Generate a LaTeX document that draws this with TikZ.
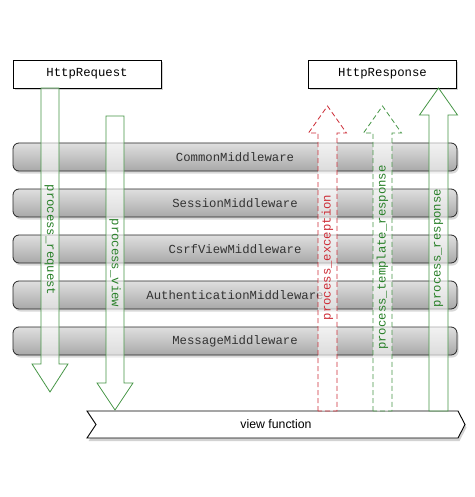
\documentclass[tikz,border=0pt]{standalone}
\usepackage{fontspec}
\setmainfont{Liberation Sans}
\newfontfamily\monofont{Liberation Mono}
\usetikzlibrary{shadows,calc}
\definecolor{agreen}{RGB}{70,150,70}
\definecolor{tgreen}{RGB}{40,128,40}
\definecolor{ared}{RGB}{205,45,55}
\newcommand\blockdown[4]{(#1-9,#2) -- (#1-9,#3) -- (#1-18,#3) -- (#1,#4) -- (#1+18,#3) -- (#1+9,#3) -- (#1+9,#2) -- cycle}
\newcommand\blockup[4]{(#1-9.5,#2) -- (#1-9.5,#3) -- (#1-19,#3) -- (#1,#4) -- (#1+19,#3) -- (#1+9.5,#3) -- (#1+9.5,#2) -- cycle}
\tikzset{
  mono/.style={font=\monofont\fontsize{12.3}{14}\selectfont},
  httpbox/.style={mono, draw=black, line width=0.9pt, fill=white, minimum width=148pt, minimum height=28pt, inner sep=0pt,
    drop shadow={opacity=0.35, shadow xshift=1.5pt, shadow yshift=-2.5pt}},
  mwbar/.style={mono, text=black!80, draw=black!85, line width=0.8pt, rounded corners=6pt, minimum width=444pt, minimum height=28pt, inner sep=0pt,
    top color=gray!25, middle color=gray!5, bottom color=gray!68,
    drop shadow={opacity=0.3, shadow xshift=1.5pt, shadow yshift=-2.5pt}},
  flowarrow/.style={line width=0.8pt, fill=white, fill opacity=0.6, draw opacity=1},
  solidgreen/.style={flowarrow, draw=agreen},
  dashgreen/.style={flowarrow, draw=agreen, dash pattern=on 5pt off 3pt},
  dashred/.style={flowarrow, draw=ared, dash pattern=on 5pt off 3pt},
  arrowlabel/.style={mono, inner sep=0pt},
}
\begin{document}
\begin{tikzpicture}[x=1pt,y=-1pt]
\useasboundingbox[fill=white] (0,0) rectangle (474,497);
% top boxes
\node[httpbox] (req) at (87,74) {HttpRequest};
\node[httpbox] (resp) at (382.5,74) {HttpResponse};
% middleware bars
\node[mwbar] (common) at (235,157) {CommonMiddleware};
\node[mwbar] (session) at (235,203) {SessionMiddleware};
\node[mwbar] (csrf) at (235,249) {CsrfViewMiddleware};
\node[mwbar] (auth) at (235,295) {AuthenticationMiddleware};
\node[mwbar] (msg) at (235,341) {MessageMiddleware};
% view function banner
\draw[line width=0.9pt, fill=white, drop shadow={opacity=0.35, shadow xshift=1.5pt, shadow yshift=-3pt}]
  (87,411) -- (458,411) -- (465,424.5) -- (458,438) -- (87,438) -- (96,424.5) -- cycle;
\node[font=\fontsize{12.3}{14}\selectfont, inner sep=0pt] (view) at (276,424.5) {view function};
% arrows
\draw[solidgreen] \blockdown{50}{88}{364}{392};
\draw[solidgreen] \blockdown{115}{116}{383}{410};
\draw[dashred] \blockup{327.5}{411}{133}{106};
\draw[dashgreen] \blockup{382.5}{411}{133}{106};
\draw[solidgreen] \blockup{438.5}{411}{115}{88};
% arrow labels
\node[arrowlabel, text=tgreen, rotate=-90] (lreq) at (50,240) {process\_request};
\node[arrowlabel, text=tgreen, rotate=-90] (lview) at (115,263) {process\_view};
\node[arrowlabel, text=ared, rotate=90] (lexc) at (327.5,257.5) {process\_exception};
\node[arrowlabel, text=tgreen, rotate=90] (ltpl) at (382.5,257.5) {process\_template\_response};
\node[arrowlabel, text=tgreen, rotate=90] (lresp) at (438.5,248) {process\_response};
\end{tikzpicture}
\end{document}
